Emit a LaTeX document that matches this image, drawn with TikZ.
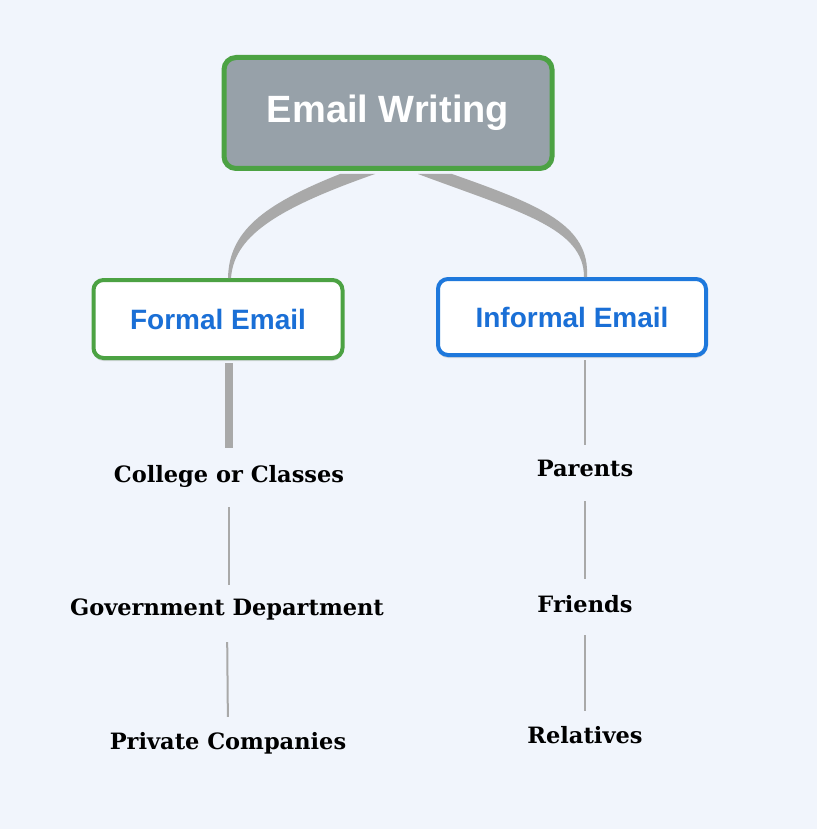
\documentclass[tikz,border=0pt]{standalone}
\usepackage{fontspec}
\setmainfont{DejaVu Serif}
\setsansfont{Liberation Sans}
\usetikzlibrary{calc,shadows}

\definecolor{bgcol}{HTML}{F1F5FC}
\definecolor{leafgreen}{HTML}{4CA243}
\definecolor{linkblue}{HTML}{1E78DC}
\definecolor{textblue}{HTML}{1A6FD6}
\definecolor{rootgray}{HTML}{97A1A9}
\definecolor{branchgray}{HTML}{A9A9A9}

\tikzset{
  rootbox/.style={draw=leafgreen, line width=5pt, fill=rootgray, rounded corners=12pt,
    minimum width=328pt, minimum height=111pt, text=white,
    font=\sffamily\bfseries\fontsize{38}{40}\selectfont},
  topicbox/.style={fill=white, line width=4pt, rounded corners=10pt, text=textblue,
    drop shadow={opacity=0.25, shadow xshift=0pt, shadow yshift=-3pt},
    font=\sffamily\bfseries\fontsize{28}{30}\selectfont},
  leaf/.style={inner sep=0pt, text height=17pt, text depth=5pt,
    font=\bfseries\fontsize{22.5}{24}\selectfont},
  stem/.style={branchgray, line width=2pt},
}

\begin{document}
\begin{tikzpicture}[x=1pt,y=-1pt]
% Background
\fill[bgcol] (0,0) rectangle (817,829);
\useasboundingbox (0,0) rectangle (817,829);

% Root
\node[rootbox] (root) at (388,113) {Email Writing};

% Topics
\node[topicbox, draw=leafgreen, minimum width=249pt, minimum height=78pt] (formal) at (218,319) {Formal Email};
\node[topicbox, draw=linkblue, minimum width=268pt, minimum height=76pt] (informal) at (572,317) {Informal Email};

% Tapered branches
\fill[branchgray] ($(root.south)+(-48,3)$) .. controls (262,205) and (229,232) .. ($(formal.north)+(10,0)$)
  -- ($(formal.north)+(13,0)$) .. controls (234,238) and (272,210) .. ($(root.south)+(-13,3)$) -- cycle;
\fill[branchgray] ($(root.south)+(30,3)$) .. controls (520,212) and (584,228) .. ($(informal.north)+(12,0)$)
  -- ($(informal.north)+(15,0)$) .. controls (590,225) and (540,205) .. ($(root.south)+(64,3)$) -- cycle;

% Formal leaves
\node[leaf] (college) at (229,476) {College or Classes};
\node[leaf] (govt) at (227,609) {Government Department};
\node[leaf] (private) at (228,743) {Private Companies};

% Informal leaves
\node[leaf] (parents) at (585,470) {Parents};
\node[leaf] (friends) at (585,606) {Friends};
\node[leaf] (relatives) at (585,737) {Relatives};

% Stems
\draw[branchgray, line width=8pt, shorten <=3pt, shorten >=17pt] (college.north |- formal.south) -- (college.north);
\draw[stem, shorten <=20pt, shorten >=13pt] (college.south) -- (govt.north -| college.south);
\draw[stem, shorten <=22pt, shorten >=15pt] (govt.south) -- (private.north);
\draw[stem, shorten <=3pt, shorten >=14pt] (parents.north |- informal.south) -- (parents.north);
\draw[stem, shorten <=20pt, shorten >=16pt] (parents.south) -- (friends.north);
\draw[stem, shorten <=18pt, shorten >=15pt] (friends.south) -- (relatives.north);
\end{tikzpicture}
\end{document}
